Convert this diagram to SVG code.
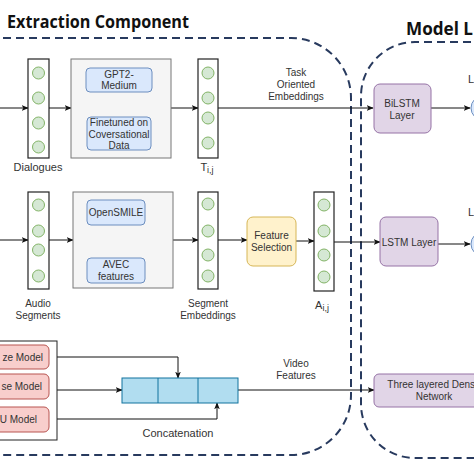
<svg xmlns="http://www.w3.org/2000/svg" width="474" height="474" viewBox="0 0 474 474">
<defs>
<marker id="ah" viewBox="0 0 10 10" refX="9" refY="5" markerWidth="7" markerHeight="7" orient="auto" markerUnits="userSpaceOnUse">
<path d="M0,1 L10,5 L0,9 L2.5,5 Z" fill="#111"/>
</marker>
<style>
.t{font-family:"Liberation Sans",Arial,sans-serif;fill:#333;font-size:10px;text-anchor:middle}
.l{font-size:11px}
.col{fill:#fff;stroke:#222;stroke-width:1.2}
.dot{fill:#d5e8d4;stroke:#82b366;stroke-width:1}
.gray{fill:#f5f5f5;stroke:#777;stroke-width:1}
.blue{fill:#dae8fc;stroke:#6c8ebf;stroke-width:1}
.purple{fill:#e1d5e7;stroke:#9673a6;stroke-width:1}
.yellow{fill:#fff2cc;stroke:#d6b656;stroke-width:1}
.pink{fill:#f8cecc;stroke:#b85450;stroke-width:1}
.cat{fill:#b1ddf0;stroke:#10739e;stroke-width:1}
.e{fill:none;stroke:#111;stroke-width:1;marker-end:url(#ah)}
.d{fill:none;stroke:#283a5e;stroke-width:2;stroke-dasharray:8 5}
</style>
</defs>
<rect width="474" height="474" fill="#fff"/>

<g id="regions">
<path class="d" d="M -10 38 H 291 A 60 60 0 0 1 351 98 V 395 A 60 60 0 0 1 291 455 H -10"/>
<path class="d" d="M 484 42 H 415 A 54 54 0 0 0 361 96 V 404 A 54 54 0 0 0 415 458 H 484"/>
</g>

<g id="titles">
<text x="7" y="28" font-family="'Open Sans','DejaVu Sans',sans-serif" font-weight="bold" font-size="18" fill="#111" textLength="182" lengthAdjust="spacingAndGlyphs">Extraction Component</text>
<text x="406" y="35" font-family="'Open Sans','DejaVu Sans',sans-serif" font-weight="bold" font-size="18" fill="#111" textLength="67" lengthAdjust="spacingAndGlyphs">Model L</text>
</g>

<g id="connectors">
<path class="e" d="M 0 108 H 28"/>
<path class="e" d="M 49 108 H 71"/>
<path class="e" d="M 119 92 V 117"/>
<path class="e" d="M 171 108 H 198"/>
<path class="e" d="M 218 108 H 373"/>
<path class="e" d="M 431 108 H 470"/>
<path class="e" d="M 0 240 H 28"/>
<path class="e" d="M 49 240 H 73"/>
<path class="e" d="M 116 225 V 258"/>
<path class="e" d="M 173 240 H 198"/>
<path class="e" d="M 218 240 H 247"/>
<path class="e" d="M 296 241 H 314"/>
<path class="e" d="M 334 242 H 380"/>
<path class="e" d="M 438 244 H 470"/>
<path class="e" d="M 49 357 H 178 V 378"/>
<path class="e" d="M 49 390 H 122"/>
<path class="e" d="M 49 419 H 217 V 403"/>
<path class="e" d="M 238 390 H 374"/>
</g>

<g id="dialogues">
<rect class="col" x="28" y="59" width="21" height="99"/>
<circle class="dot" cx="38.5" cy="73" r="6"/>
<circle class="dot" cx="38.5" cy="98" r="6"/>
<circle class="dot" cx="38.5" cy="123" r="6"/>
<circle class="dot" cx="38.5" cy="147" r="6"/>
<text class="t l" x="38" y="171">Dialogues</text>
</g>

<g id="gpt2">
<rect class="gray" x="71" y="59" width="100" height="99"/>
<rect class="blue" x="86" y="68" width="66" height="24" rx="4"/>
<text class="t" x="119" y="78">GPT2-</text>
<text class="t" x="119" y="89">Medium</text>
<rect class="blue" x="87" y="117" width="64" height="33" rx="4"/>
<text class="t" x="119" y="126">Finetuned on</text>
<text class="t" x="119" y="138">Coversational</text>
<text class="t" x="119" y="149">Data</text>
</g>

<g id="tij">
<rect class="col" x="198" y="59" width="20" height="99"/>
<circle class="dot" cx="208" cy="73" r="6"/>
<circle class="dot" cx="208" cy="98" r="6"/>
<circle class="dot" cx="208" cy="118" r="6"/>
<circle class="dot" cx="208" cy="143" r="6"/>
<text class="t l" x="207" y="171">T<tspan font-size="9" dy="2">i,j</tspan></text>
</g>

<g id="taskemb">
<text class="t" x="296" y="76">Task</text>
<text class="t" x="296" y="88">Oriented</text>
<text class="t" x="296" y="100">Embeddings</text>
</g>

<g id="bilstm">
<rect class="purple" x="374" y="84" width="57" height="49" rx="6"/>
<text class="t" x="402" y="107">BiLSTM</text>
<text class="t" x="402" y="119">Layer</text>
</g>

<g id="out1">
<text class="t l" x="468" y="83" style="text-anchor:start">L</text>
<circle class="blue" cx="483" cy="108" r="12"/>
</g>

<g id="audio">
<rect class="col" x="28" y="192" width="21" height="97"/>
<circle class="dot" cx="38.5" cy="205" r="6"/>
<circle class="dot" cx="38.5" cy="231" r="6"/>
<circle class="dot" cx="38.5" cy="250" r="6"/>
<circle class="dot" cx="38.5" cy="276" r="6"/>
<text class="t" x="38" y="307">Audio</text>
<text class="t" x="38" y="319">Segments</text>
</g>

<g id="opensmile">
<rect class="gray" x="73" y="192" width="100" height="96"/>
<rect class="blue" x="87" y="200" width="58" height="25" rx="4"/>
<text class="t" x="116" y="216">OpenSMILE</text>
<rect class="blue" x="87" y="258" width="58" height="25" rx="4"/>
<text class="t" x="116" y="268">AVEC</text>
<text class="t" x="116" y="280">features</text>
</g>

<g id="segemb">
<rect class="col" x="198" y="192" width="20" height="97"/>
<circle class="dot" cx="208" cy="204" r="6"/>
<circle class="dot" cx="208" cy="231" r="6"/>
<circle class="dot" cx="208" cy="255" r="6"/>
<circle class="dot" cx="208" cy="276" r="6"/>
<text class="t" x="208" y="307">Segment</text>
<text class="t" x="208" y="319">Embeddings</text>
</g>

<g id="featsel">
<rect class="yellow" x="247" y="217" width="49" height="49" rx="6"/>
<text class="t" x="271.5" y="239">Feature</text>
<text class="t" x="271.5" y="251">Selection</text>
</g>

<g id="aij">
<rect class="col" x="314" y="192" width="20" height="99"/>
<circle class="dot" cx="324" cy="205" r="6"/>
<circle class="dot" cx="324" cy="231" r="6"/>
<circle class="dot" cx="324" cy="255" r="6"/>
<circle class="dot" cx="324" cy="277" r="6"/>
<text class="t l" x="322" y="309">A<tspan font-size="9" dy="2">i,j</tspan></text>
</g>

<g id="lstm">
<rect class="purple" x="380" y="217" width="58" height="49" rx="6"/>
<text class="t" x="409" y="246">LSTM Layer</text>
</g>

<g id="out2">
<text class="t l" x="468" y="216" style="text-anchor:start">L</text>
<circle class="blue" cx="483" cy="244" r="12"/>
</g>

<g id="videomodels">
<rect x="-5" y="341" width="62" height="99" fill="#fff" stroke="#222" stroke-width="1"/>
<rect class="pink" x="-10" y="345" width="59" height="24" rx="5"/>
<text class="t" x="43" y="361" style="text-anchor:end">ze Model</text>
<rect class="pink" x="-10" y="374" width="59" height="25" rx="5"/>
<text class="t" x="42" y="390" style="text-anchor:end">se Model</text>
<rect class="pink" x="-10" y="407" width="59" height="25" rx="5"/>
<text class="t" x="37" y="423" style="text-anchor:end">U Model</text>
</g>

<g id="concat">
<rect class="cat" x="122" y="378" width="116" height="25"/>
<line x1="158" y1="378" x2="158" y2="403" stroke="#10739e" stroke-width="1"/>
<line x1="198" y1="378" x2="198" y2="403" stroke="#10739e" stroke-width="1"/>
<text class="t l" x="178" y="437">Concatenation</text>
</g>

<g id="videofeat">
<text class="t" x="296" y="367">Video</text>
<text class="t" x="296" y="379">Features</text>
</g>

<g id="dense">
<rect class="purple" x="374" y="374" width="120" height="33" rx="5"/>
<text class="t" x="434" y="388">Three layered Dense</text>
<text class="t" x="434" y="400">Network</text>
</g>
</svg>
